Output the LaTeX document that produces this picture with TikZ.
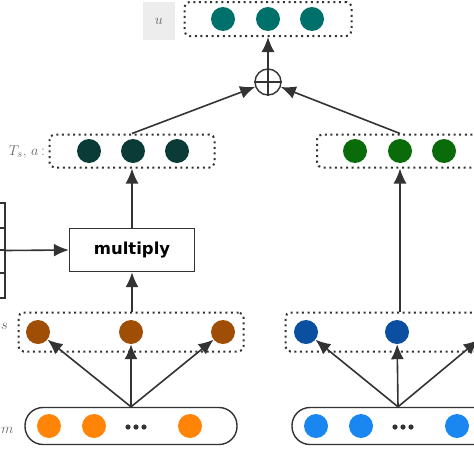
\documentclass[tikz,border=0pt]{standalone}
\usepackage{fontspec}
\newfontfamily\mulfont{DejaVu Sans}
\usetikzlibrary{arrows.meta}

\definecolor{lineg}{HTML}{333333}
\definecolor{tealc}{HTML}{00706A}
\definecolor{darkc}{HTML}{0B3B36}
\definecolor{greenc}{HTML}{0A6B0A}
\definecolor{brownc}{HTML}{A04E05}
\definecolor{orangec}{HTML}{FF8407}
\definecolor{dblue}{HTML}{0A4FA0}
\definecolor{lblue}{HTML}{1A87F0}

\begin{document}
\begin{tikzpicture}[x=1pt, y=-1pt,
    unit/.style={circle, minimum size=24pt, inner sep=0pt},
    dotbox/.style={draw=lineg, line width=2pt, dash pattern=on 2pt off 3.6pt, rounded corners=5pt, inner sep=0pt},
    arr/.style={-{Latex[length=15pt,width=13pt]}, draw=lineg, line width=1.6pt},
    lbl/.style={text=black!60, anchor=east, inner sep=0pt, font=\fontsize{15}{18}\selectfont}
  ]

  \useasboundingbox (0,0) rectangle (474,474);

  % top output u
  \node[fill=black!7, minimum width=32pt, minimum height=38pt, font=\fontsize{14}{16}\selectfont] (ulab) at (159,21) {\color{black!60}$u$};
  \node[dotbox, minimum width=167pt, minimum height=34pt] (ubox) at (268,19) {};
  \foreach \x [count=\i] in {223, 268, 312} {
      \node[unit, fill=tealc] (u\i) at (\x, 19) {};
    }

  \node[circle, draw=lineg, line width=1.4pt, minimum size=26pt, inner sep=0pt] (sum) at (268,82) {};
  \draw[lineg, line width=1.2pt] (sum.north) -- (sum.south) (sum.west) -- (sum.east);
  \draw[arr] (sum.north) -- (ubox.south);

  % left branch
  \node[dotbox, minimum width=165pt, minimum height=33pt] (abox) at (132,151) {};
  \foreach \x [count=\i] in {89, 133, 177} {
      \node[unit, fill=darkc] (a\i) at (\x, 151) {};
    }
  \node[lbl] (alab) at (45,152) {$T_s$,\ $a$\,:};

  \node[draw=lineg, line width=1.4pt, minimum width=125pt, minimum height=43pt, font=\mulfont\bfseries\fontsize{16.5}{18}\selectfont] (mult) at (132,250) {multiply};

  \node[draw=lineg, line width=1.4pt, minimum width=40pt, minimum height=95pt, inner sep=0pt] (tab) at (-15,250.5) {};
  \foreach \y in {228, 250, 273} {
      \draw[lineg, line width=1.4pt] (tab.west |- 0,\y) -- (tab.east |- 0,\y);
    }

  \node[dotbox, minimum width=225pt, minimum height=39pt] (sbox) at (131,332) {};
  \foreach \x [count=\i] in {38, 131, 223} {
      \node[unit, fill=brownc] (s\i) at (\x, 332) {};
    }
  \node[lbl, anchor=west] (slab) at (1,326) {$s$};

  \node[draw=lineg, line width=1.4pt, rounded corners=18pt, minimum width=212pt, minimum height=37pt] (epill) at (131,426) {};
  \foreach \x [count=\i] in {49, 94, 190} {
      \node[unit, fill=orangec] (e\i) at (\x, 426) {};
    }
  \foreach \d in {-8, 0, 8} {
      \fill[lineg] (136+\d, 427) circle (2.6);
    }
  \node[lbl, anchor=west] (elab) at (1,430) {$m$};

  % right branch
  \node[dotbox, minimum width=166pt, minimum height=33pt] (gbox) at (400,151) {};
  \foreach \x [count=\i] in {355, 400, 444} {
      \node[unit, fill=greenc] (g\i) at (\x, 151) {};
    }

  \node[dotbox, minimum width=225pt, minimum height=39pt] (cbox) at (398,332) {};
  \foreach \x [count=\i] in {306, 397, 488} {
      \node[unit, fill=dblue] (c\i) at (\x, 332) {};
    }

  \node[draw=lineg, line width=1.4pt, rounded corners=18pt, minimum width=212pt, minimum height=37pt] (fpill) at (398,426) {};
  \foreach \x [count=\i] in {316, 361, 457} {
      \node[unit, fill=lblue] (f\i) at (\x, 426) {};
    }
  \foreach \d in {-8, 0, 8} {
      \fill[lineg] (403+\d, 427) circle (2.6);
    }

  % connectors
  \draw[arr] (abox.north) -- (sum);
  \draw[arr] (gbox.north) -- (sum);
  \draw[arr] (mult.north) -- (abox.south);
  \draw[arr] (tab.east) -- (mult.west);
  \draw[arr] (sbox.north -| mult.south) -- (mult.south);
  \draw[arr] (cbox.north -| gbox.south) -- (gbox.south);
  \foreach \i in {1, 2, 3} {
      \draw[arr] (epill.north) -- (s\i);
      \draw[arr] (fpill.north) -- (c\i);
    }

\end{tikzpicture}
\end{document}
